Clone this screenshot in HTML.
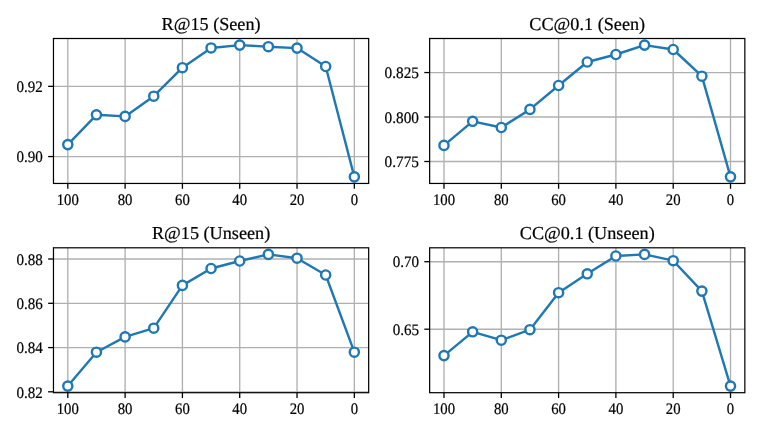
<!DOCTYPE html>
<html><head><meta charset="utf-8"><title>chart</title>
<style>
html,body{margin:0;padding:0;background:#fff;}
svg{display:block;}
text{font-family:"Liberation Serif",serif;fill:#000;text-rendering:geometricPrecision;stroke:#000;stroke-width:0.2px;}
.t{font-size:15.28px;}
.ti{font-size:18.2px;}
</style></head><body>
<svg width="761" height="435" viewBox="0 0 761 435">
<rect width="761" height="435" fill="#fff"/>
<g>
<line x1="67.80" y1="38.5" x2="67.80" y2="183.45" stroke="#b0b0b0" stroke-width="1.35"/>
<line x1="125.11" y1="38.5" x2="125.11" y2="183.45" stroke="#b0b0b0" stroke-width="1.35"/>
<line x1="182.42" y1="38.5" x2="182.42" y2="183.45" stroke="#b0b0b0" stroke-width="1.35"/>
<line x1="239.72" y1="38.5" x2="239.72" y2="183.45" stroke="#b0b0b0" stroke-width="1.35"/>
<line x1="297.03" y1="38.5" x2="297.03" y2="183.45" stroke="#b0b0b0" stroke-width="1.35"/>
<line x1="354.34" y1="38.5" x2="354.34" y2="183.45" stroke="#b0b0b0" stroke-width="1.35"/>
<line x1="53.47" y1="86.35" x2="368.67" y2="86.35" stroke="#b0b0b0" stroke-width="1.35"/>
<line x1="53.47" y1="156.55" x2="368.67" y2="156.55" stroke="#b0b0b0" stroke-width="1.35"/>
<polyline points="67.80,144.6 96.45,114.8 125.11,116.4 153.76,96.2 182.42,67.7 211.07,47.95 239.72,45.1 268.38,46.7 297.03,48.1 325.69,66.5 354.34,176.85" fill="none" stroke="#1f77b4" stroke-width="2.4" stroke-linejoin="round" stroke-linecap="butt"/>
<circle cx="67.80" cy="144.6" r="4.58" fill="#fff" stroke="#1f77b4" stroke-width="2.4"/>
<circle cx="96.45" cy="114.8" r="4.58" fill="#fff" stroke="#1f77b4" stroke-width="2.4"/>
<circle cx="125.11" cy="116.4" r="4.58" fill="#fff" stroke="#1f77b4" stroke-width="2.4"/>
<circle cx="153.76" cy="96.2" r="4.58" fill="#fff" stroke="#1f77b4" stroke-width="2.4"/>
<circle cx="182.42" cy="67.7" r="4.58" fill="#fff" stroke="#1f77b4" stroke-width="2.4"/>
<circle cx="211.07" cy="47.95" r="4.58" fill="#fff" stroke="#1f77b4" stroke-width="2.4"/>
<circle cx="239.72" cy="45.1" r="4.58" fill="#fff" stroke="#1f77b4" stroke-width="2.4"/>
<circle cx="268.38" cy="46.7" r="4.58" fill="#fff" stroke="#1f77b4" stroke-width="2.4"/>
<circle cx="297.03" cy="48.1" r="4.58" fill="#fff" stroke="#1f77b4" stroke-width="2.4"/>
<circle cx="325.69" cy="66.5" r="4.58" fill="#fff" stroke="#1f77b4" stroke-width="2.4"/>
<circle cx="354.34" cy="176.85" r="4.58" fill="#fff" stroke="#1f77b4" stroke-width="2.4"/>
<line x1="67.80" y1="183.45" x2="67.80" y2="188.80" stroke="#000" stroke-width="1.3"/>
<text class="t" transform="translate(67.80,204.75) scale(0.965,1.05)" text-anchor="middle">100</text>
<line x1="125.11" y1="183.45" x2="125.11" y2="188.80" stroke="#000" stroke-width="1.3"/>
<text class="t" transform="translate(125.11,204.75) scale(0.965,1.05)" text-anchor="middle">80</text>
<line x1="182.42" y1="183.45" x2="182.42" y2="188.80" stroke="#000" stroke-width="1.3"/>
<text class="t" transform="translate(182.42,204.75) scale(0.965,1.05)" text-anchor="middle">60</text>
<line x1="239.72" y1="183.45" x2="239.72" y2="188.80" stroke="#000" stroke-width="1.3"/>
<text class="t" transform="translate(239.72,204.75) scale(0.965,1.05)" text-anchor="middle">40</text>
<line x1="297.03" y1="183.45" x2="297.03" y2="188.80" stroke="#000" stroke-width="1.3"/>
<text class="t" transform="translate(297.03,204.75) scale(0.965,1.05)" text-anchor="middle">20</text>
<line x1="354.34" y1="183.45" x2="354.34" y2="188.80" stroke="#000" stroke-width="1.3"/>
<text class="t" transform="translate(354.34,204.75) scale(0.965,1.05)" text-anchor="middle">0</text>
<line x1="48.12" y1="86.35" x2="53.47" y2="86.35" stroke="#000" stroke-width="1.3"/>
<text class="t" transform="translate(42.77,92.20) scale(0.985,1.05)" text-anchor="end">0.92</text>
<line x1="48.12" y1="156.55" x2="53.47" y2="156.55" stroke="#000" stroke-width="1.3"/>
<text class="t" transform="translate(42.77,162.25) scale(0.985,1.05)" text-anchor="end">0.90</text>
<rect x="53.47" y="38.5" width="315.20" height="144.95" fill="none" stroke="#000" stroke-width="1.22"/>
<text class="ti" x="211.07" y="29.50" text-anchor="middle">R@15 (Seen)</text>
</g>
<g>
<line x1="443.98" y1="38.5" x2="443.98" y2="183.45" stroke="#b0b0b0" stroke-width="1.35"/>
<line x1="501.29" y1="38.5" x2="501.29" y2="183.45" stroke="#b0b0b0" stroke-width="1.35"/>
<line x1="558.60" y1="38.5" x2="558.60" y2="183.45" stroke="#b0b0b0" stroke-width="1.35"/>
<line x1="615.90" y1="38.5" x2="615.90" y2="183.45" stroke="#b0b0b0" stroke-width="1.35"/>
<line x1="673.21" y1="38.5" x2="673.21" y2="183.45" stroke="#b0b0b0" stroke-width="1.35"/>
<line x1="730.52" y1="38.5" x2="730.52" y2="183.45" stroke="#b0b0b0" stroke-width="1.35"/>
<line x1="429.65" y1="72.55" x2="744.85" y2="72.55" stroke="#b0b0b0" stroke-width="1.35"/>
<line x1="429.65" y1="117.0" x2="744.85" y2="117.0" stroke="#b0b0b0" stroke-width="1.35"/>
<line x1="429.65" y1="161.5" x2="744.85" y2="161.5" stroke="#b0b0b0" stroke-width="1.35"/>
<polyline points="443.98,145.4 472.63,121.3 501.29,127.5 529.94,109.4 558.60,85.5 587.25,62.0 615.90,54.5 644.56,45.1 673.21,49.5 701.87,76.2 730.52,176.85" fill="none" stroke="#1f77b4" stroke-width="2.4" stroke-linejoin="round" stroke-linecap="butt"/>
<circle cx="443.98" cy="145.4" r="4.58" fill="#fff" stroke="#1f77b4" stroke-width="2.4"/>
<circle cx="472.63" cy="121.3" r="4.58" fill="#fff" stroke="#1f77b4" stroke-width="2.4"/>
<circle cx="501.29" cy="127.5" r="4.58" fill="#fff" stroke="#1f77b4" stroke-width="2.4"/>
<circle cx="529.94" cy="109.4" r="4.58" fill="#fff" stroke="#1f77b4" stroke-width="2.4"/>
<circle cx="558.60" cy="85.5" r="4.58" fill="#fff" stroke="#1f77b4" stroke-width="2.4"/>
<circle cx="587.25" cy="62.0" r="4.58" fill="#fff" stroke="#1f77b4" stroke-width="2.4"/>
<circle cx="615.90" cy="54.5" r="4.58" fill="#fff" stroke="#1f77b4" stroke-width="2.4"/>
<circle cx="644.56" cy="45.1" r="4.58" fill="#fff" stroke="#1f77b4" stroke-width="2.4"/>
<circle cx="673.21" cy="49.5" r="4.58" fill="#fff" stroke="#1f77b4" stroke-width="2.4"/>
<circle cx="701.87" cy="76.2" r="4.58" fill="#fff" stroke="#1f77b4" stroke-width="2.4"/>
<circle cx="730.52" cy="176.85" r="4.58" fill="#fff" stroke="#1f77b4" stroke-width="2.4"/>
<line x1="443.98" y1="183.45" x2="443.98" y2="188.80" stroke="#000" stroke-width="1.3"/>
<text class="t" transform="translate(443.98,204.75) scale(0.965,1.05)" text-anchor="middle">100</text>
<line x1="501.29" y1="183.45" x2="501.29" y2="188.80" stroke="#000" stroke-width="1.3"/>
<text class="t" transform="translate(501.29,204.75) scale(0.965,1.05)" text-anchor="middle">80</text>
<line x1="558.60" y1="183.45" x2="558.60" y2="188.80" stroke="#000" stroke-width="1.3"/>
<text class="t" transform="translate(558.60,204.75) scale(0.965,1.05)" text-anchor="middle">60</text>
<line x1="615.90" y1="183.45" x2="615.90" y2="188.80" stroke="#000" stroke-width="1.3"/>
<text class="t" transform="translate(615.90,204.75) scale(0.965,1.05)" text-anchor="middle">40</text>
<line x1="673.21" y1="183.45" x2="673.21" y2="188.80" stroke="#000" stroke-width="1.3"/>
<text class="t" transform="translate(673.21,204.75) scale(0.965,1.05)" text-anchor="middle">20</text>
<line x1="730.52" y1="183.45" x2="730.52" y2="188.80" stroke="#000" stroke-width="1.3"/>
<text class="t" transform="translate(730.52,204.75) scale(0.965,1.05)" text-anchor="middle">0</text>
<line x1="424.30" y1="72.55" x2="429.65" y2="72.55" stroke="#000" stroke-width="1.3"/>
<text class="t" transform="translate(418.95,78.25) scale(1.0,1.05)" text-anchor="end">0.825</text>
<line x1="424.30" y1="117.0" x2="429.65" y2="117.0" stroke="#000" stroke-width="1.3"/>
<text class="t" transform="translate(418.95,122.85) scale(1.0,1.05)" text-anchor="end">0.800</text>
<line x1="424.30" y1="161.5" x2="429.65" y2="161.5" stroke="#000" stroke-width="1.3"/>
<text class="t" transform="translate(418.95,167.05) scale(1.0,1.05)" text-anchor="end">0.775</text>
<rect x="429.65" y="38.5" width="315.20" height="144.95" fill="none" stroke="#000" stroke-width="1.22"/>
<text class="ti" x="587.25" y="29.50" text-anchor="middle">CC@0.1 (Seen)</text>
</g>
<g>
<line x1="67.80" y1="247.8" x2="67.80" y2="392.7" stroke="#b0b0b0" stroke-width="1.35"/>
<line x1="125.11" y1="247.8" x2="125.11" y2="392.7" stroke="#b0b0b0" stroke-width="1.35"/>
<line x1="182.42" y1="247.8" x2="182.42" y2="392.7" stroke="#b0b0b0" stroke-width="1.35"/>
<line x1="239.72" y1="247.8" x2="239.72" y2="392.7" stroke="#b0b0b0" stroke-width="1.35"/>
<line x1="297.03" y1="247.8" x2="297.03" y2="392.7" stroke="#b0b0b0" stroke-width="1.35"/>
<line x1="354.34" y1="247.8" x2="354.34" y2="392.7" stroke="#b0b0b0" stroke-width="1.35"/>
<line x1="53.47" y1="259.0" x2="368.67" y2="259.0" stroke="#b0b0b0" stroke-width="1.35"/>
<line x1="53.47" y1="303.3" x2="368.67" y2="303.3" stroke="#b0b0b0" stroke-width="1.35"/>
<line x1="53.47" y1="347.6" x2="368.67" y2="347.6" stroke="#b0b0b0" stroke-width="1.35"/>
<line x1="53.47" y1="391.8" x2="368.67" y2="391.8" stroke="#b0b0b0" stroke-width="1.35"/>
<polyline points="67.80,386.1 96.45,352.2 125.11,336.9 153.76,328.2 182.42,285.4 211.07,268.5 239.72,261.0 268.38,254.4 297.03,258.2 325.69,275.0 354.34,352.2" fill="none" stroke="#1f77b4" stroke-width="2.4" stroke-linejoin="round" stroke-linecap="butt"/>
<circle cx="67.80" cy="386.1" r="4.58" fill="#fff" stroke="#1f77b4" stroke-width="2.4"/>
<circle cx="96.45" cy="352.2" r="4.58" fill="#fff" stroke="#1f77b4" stroke-width="2.4"/>
<circle cx="125.11" cy="336.9" r="4.58" fill="#fff" stroke="#1f77b4" stroke-width="2.4"/>
<circle cx="153.76" cy="328.2" r="4.58" fill="#fff" stroke="#1f77b4" stroke-width="2.4"/>
<circle cx="182.42" cy="285.4" r="4.58" fill="#fff" stroke="#1f77b4" stroke-width="2.4"/>
<circle cx="211.07" cy="268.5" r="4.58" fill="#fff" stroke="#1f77b4" stroke-width="2.4"/>
<circle cx="239.72" cy="261.0" r="4.58" fill="#fff" stroke="#1f77b4" stroke-width="2.4"/>
<circle cx="268.38" cy="254.4" r="4.58" fill="#fff" stroke="#1f77b4" stroke-width="2.4"/>
<circle cx="297.03" cy="258.2" r="4.58" fill="#fff" stroke="#1f77b4" stroke-width="2.4"/>
<circle cx="325.69" cy="275.0" r="4.58" fill="#fff" stroke="#1f77b4" stroke-width="2.4"/>
<circle cx="354.34" cy="352.2" r="4.58" fill="#fff" stroke="#1f77b4" stroke-width="2.4"/>
<line x1="67.80" y1="392.7" x2="67.80" y2="398.05" stroke="#000" stroke-width="1.3"/>
<text class="t" transform="translate(67.80,414.30) scale(0.965,1.05)" text-anchor="middle">100</text>
<line x1="125.11" y1="392.7" x2="125.11" y2="398.05" stroke="#000" stroke-width="1.3"/>
<text class="t" transform="translate(125.11,414.30) scale(0.965,1.05)" text-anchor="middle">80</text>
<line x1="182.42" y1="392.7" x2="182.42" y2="398.05" stroke="#000" stroke-width="1.3"/>
<text class="t" transform="translate(182.42,414.30) scale(0.965,1.05)" text-anchor="middle">60</text>
<line x1="239.72" y1="392.7" x2="239.72" y2="398.05" stroke="#000" stroke-width="1.3"/>
<text class="t" transform="translate(239.72,414.30) scale(0.965,1.05)" text-anchor="middle">40</text>
<line x1="297.03" y1="392.7" x2="297.03" y2="398.05" stroke="#000" stroke-width="1.3"/>
<text class="t" transform="translate(297.03,414.30) scale(0.965,1.05)" text-anchor="middle">20</text>
<line x1="354.34" y1="392.7" x2="354.34" y2="398.05" stroke="#000" stroke-width="1.3"/>
<text class="t" transform="translate(354.34,414.30) scale(0.965,1.05)" text-anchor="middle">0</text>
<line x1="48.12" y1="259.0" x2="53.47" y2="259.0" stroke="#000" stroke-width="1.3"/>
<text class="t" transform="translate(42.77,264.85) scale(0.985,1.05)" text-anchor="end">0.88</text>
<line x1="48.12" y1="303.3" x2="53.47" y2="303.3" stroke="#000" stroke-width="1.3"/>
<text class="t" transform="translate(42.77,309.05) scale(0.985,1.05)" text-anchor="end">0.86</text>
<line x1="48.12" y1="347.6" x2="53.47" y2="347.6" stroke="#000" stroke-width="1.3"/>
<text class="t" transform="translate(42.77,353.35) scale(0.985,1.05)" text-anchor="end">0.84</text>
<line x1="48.12" y1="391.8" x2="53.47" y2="391.8" stroke="#000" stroke-width="1.3"/>
<text class="t" transform="translate(42.77,397.65) scale(0.985,1.05)" text-anchor="end">0.82</text>
<rect x="53.47" y="247.8" width="315.20" height="144.90" fill="none" stroke="#000" stroke-width="1.22"/>
<text class="ti" x="211.07" y="238.80" text-anchor="middle">R@15 (Unseen)</text>
</g>
<g>
<line x1="443.98" y1="247.8" x2="443.98" y2="392.7" stroke="#b0b0b0" stroke-width="1.35"/>
<line x1="501.29" y1="247.8" x2="501.29" y2="392.7" stroke="#b0b0b0" stroke-width="1.35"/>
<line x1="558.60" y1="247.8" x2="558.60" y2="392.7" stroke="#b0b0b0" stroke-width="1.35"/>
<line x1="615.90" y1="247.8" x2="615.90" y2="392.7" stroke="#b0b0b0" stroke-width="1.35"/>
<line x1="673.21" y1="247.8" x2="673.21" y2="392.7" stroke="#b0b0b0" stroke-width="1.35"/>
<line x1="730.52" y1="247.8" x2="730.52" y2="392.7" stroke="#b0b0b0" stroke-width="1.35"/>
<line x1="429.65" y1="261.7" x2="744.85" y2="261.7" stroke="#b0b0b0" stroke-width="1.35"/>
<line x1="429.65" y1="329.2" x2="744.85" y2="329.2" stroke="#b0b0b0" stroke-width="1.35"/>
<polyline points="443.98,355.6 472.63,331.8 501.29,340.2 529.94,329.7 558.60,292.7 587.25,273.8 615.90,256.0 644.56,254.4 673.21,260.7 701.87,291.1 730.52,386.1" fill="none" stroke="#1f77b4" stroke-width="2.4" stroke-linejoin="round" stroke-linecap="butt"/>
<circle cx="443.98" cy="355.6" r="4.58" fill="#fff" stroke="#1f77b4" stroke-width="2.4"/>
<circle cx="472.63" cy="331.8" r="4.58" fill="#fff" stroke="#1f77b4" stroke-width="2.4"/>
<circle cx="501.29" cy="340.2" r="4.58" fill="#fff" stroke="#1f77b4" stroke-width="2.4"/>
<circle cx="529.94" cy="329.7" r="4.58" fill="#fff" stroke="#1f77b4" stroke-width="2.4"/>
<circle cx="558.60" cy="292.7" r="4.58" fill="#fff" stroke="#1f77b4" stroke-width="2.4"/>
<circle cx="587.25" cy="273.8" r="4.58" fill="#fff" stroke="#1f77b4" stroke-width="2.4"/>
<circle cx="615.90" cy="256.0" r="4.58" fill="#fff" stroke="#1f77b4" stroke-width="2.4"/>
<circle cx="644.56" cy="254.4" r="4.58" fill="#fff" stroke="#1f77b4" stroke-width="2.4"/>
<circle cx="673.21" cy="260.7" r="4.58" fill="#fff" stroke="#1f77b4" stroke-width="2.4"/>
<circle cx="701.87" cy="291.1" r="4.58" fill="#fff" stroke="#1f77b4" stroke-width="2.4"/>
<circle cx="730.52" cy="386.1" r="4.58" fill="#fff" stroke="#1f77b4" stroke-width="2.4"/>
<line x1="443.98" y1="392.7" x2="443.98" y2="398.05" stroke="#000" stroke-width="1.3"/>
<text class="t" transform="translate(443.98,414.30) scale(0.965,1.05)" text-anchor="middle">100</text>
<line x1="501.29" y1="392.7" x2="501.29" y2="398.05" stroke="#000" stroke-width="1.3"/>
<text class="t" transform="translate(501.29,414.30) scale(0.965,1.05)" text-anchor="middle">80</text>
<line x1="558.60" y1="392.7" x2="558.60" y2="398.05" stroke="#000" stroke-width="1.3"/>
<text class="t" transform="translate(558.60,414.30) scale(0.965,1.05)" text-anchor="middle">60</text>
<line x1="615.90" y1="392.7" x2="615.90" y2="398.05" stroke="#000" stroke-width="1.3"/>
<text class="t" transform="translate(615.90,414.30) scale(0.965,1.05)" text-anchor="middle">40</text>
<line x1="673.21" y1="392.7" x2="673.21" y2="398.05" stroke="#000" stroke-width="1.3"/>
<text class="t" transform="translate(673.21,414.30) scale(0.965,1.05)" text-anchor="middle">20</text>
<line x1="730.52" y1="392.7" x2="730.52" y2="398.05" stroke="#000" stroke-width="1.3"/>
<text class="t" transform="translate(730.52,414.30) scale(0.965,1.05)" text-anchor="middle">0</text>
<line x1="424.30" y1="261.7" x2="429.65" y2="261.7" stroke="#000" stroke-width="1.3"/>
<text class="t" transform="translate(418.95,267.35) scale(0.985,1.05)" text-anchor="end">0.70</text>
<line x1="424.30" y1="329.2" x2="429.65" y2="329.2" stroke="#000" stroke-width="1.3"/>
<text class="t" transform="translate(418.95,334.95) scale(0.985,1.05)" text-anchor="end">0.65</text>
<rect x="429.65" y="247.8" width="315.20" height="144.90" fill="none" stroke="#000" stroke-width="1.22"/>
<text class="ti" x="587.25" y="238.80" text-anchor="middle">CC@0.1 (Unseen)</text>
</g>
</svg></body></html>
